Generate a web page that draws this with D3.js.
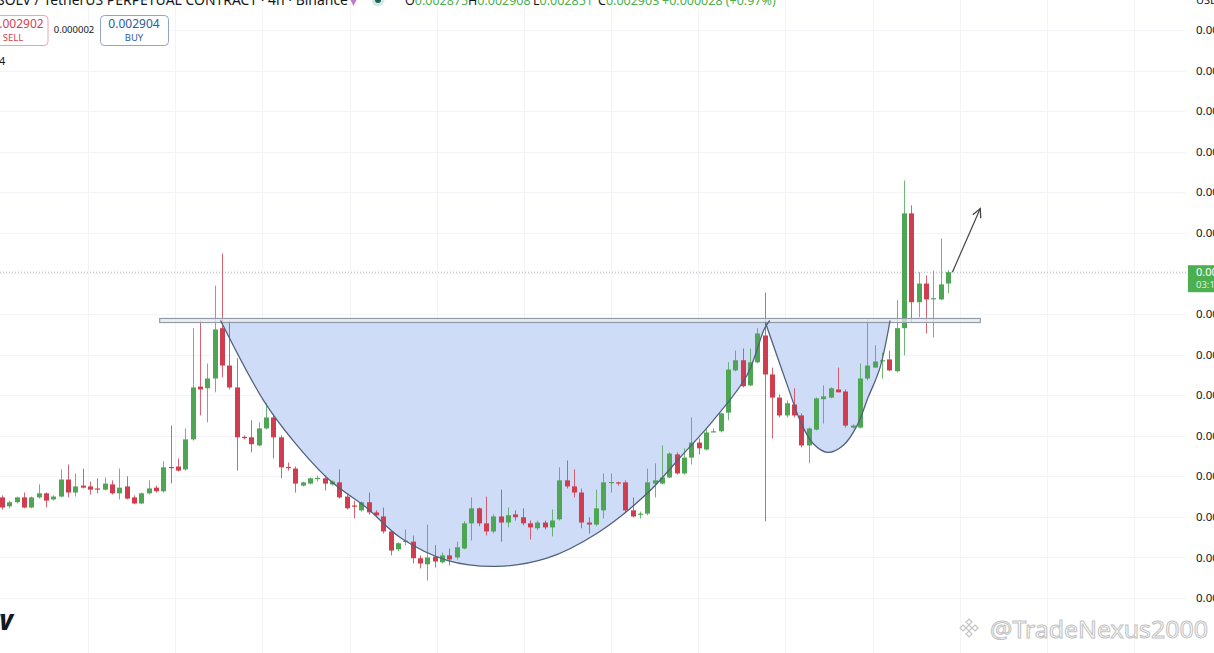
<!DOCTYPE html>
<html>
<head>
<meta charset="utf-8">
<title>SOLV cup and handle</title>
<script src="https://cdn.jsdelivr.net/npm/d3@7"></script>
<style>
body { margin: 0; background: #fff; overflow: hidden; }
text { font-family: "Noto Sans", sans-serif; }
</style>
</head>
<body>
<svg id="chart" width="1214" height="653"></svg>
<script>
// 4h candles, prices in millionths of USDT (2903 = 0.002903)
var open  = [2348,2326,2336,2348,2323,2348,2358,2343,2350,2392,2360,2377,2375,2370,2367,2380,2358,2375,2348,2333,
             2358,2372,2363,2423,2424,2417,2491,2621,2617,2641,2765,2673,2619,2497,2496,2476,2518,2545,2496,2423,
             2419,2377,2382,2395,2395,2380,2385,2350,2328,2316,2336,2311,2301,2264,2220,2238,2239,2198,2183,2202,
             2188,2205,2200,2222,2284,2321,2284,2264,2301,2286,2306,2299,2284,2272,2286,2274,2294,2390,2375,2360,
             2286,2281,2316,2384,2385,2385,2316,2306,2308,2382,2382,2397,2454,2407,2446,2483,2466,2510,2511,2557,
             2661,2686,2624,2681,2747,2651,2594,2550,2577,2550,2476,2515,2590,2594,2614,2609,2520,2520,2641,2668,
             2684,2688,2659,2765,3048,2829,2875,2838,2836,2875];
var high  = [2353,2340,2350,2360,2350,2380,2360,2353,2417,2429,2407,2419,2387,2395,2397,2390,2419,2400,2353,2360,
             2390,2377,2437,2525,2444,2518,2765,2784,2678,2870,2949,2784,2691,2501,2538,2533,2580,2550,2501,2434,
             2424,2387,2397,2402,2402,2390,2417,2358,2340,2338,2360,2316,2323,2267,2237,2269,2254,2205,2281,2230,
             2212,2222,2239,2289,2348,2323,2350,2306,2367,2323,2316,2321,2291,2291,2291,2318,2422,2439,2417,2370,
             2299,2367,2407,2407,2387,2390,2348,2313,2419,2432,2476,2459,2459,2469,2545,2493,2520,2518,2557,2681,
             2710,2715,2715,2765,2853,2668,2602,2587,2617,2555,2520,2594,2624,2619,2668,2614,2528,2678,2787,2723,
             2705,2710,2834,3129,3068,2903,2895,2907,2986,2908];
var low   = [2318,2321,2333,2321,2321,2345,2323,2340,2348,2348,2350,2370,2355,2358,2365,2355,2343,2343,2331,2331,
             2355,2360,2360,2382,2412,2414,2488,2550,2533,2607,2644,2614,2414,2491,2459,2474,2515,2444,2395,2414,
             2360,2375,2380,2387,2365,2377,2345,2318,2296,2313,2306,2299,2259,2205,2215,2230,2185,2173,2143,2175,
             2185,2180,2195,2220,2242,2277,2254,2259,2239,2274,2291,2279,2244,2267,2269,2252,2291,2370,2348,2272,
             2259,2277,2296,2360,2377,2311,2299,2296,2304,2348,2380,2395,2404,2404,2429,2454,2464,2508,2508,2538,
             2659,2619,2622,2678,2289,2493,2545,2545,2545,2471,2432,2513,2530,2592,2607,2520,2518,2518,2636,2668,
             2641,2659,2656,2698,2779,2792,2752,2742,2834,2851];
var close = [2323,2336,2348,2323,2348,2358,2340,2350,2392,2360,2375,2372,2367,2369,2382,2358,2372,2345,2333,2358,
             2370,2363,2422,2421,2414,2491,2619,2614,2641,2762,2673,2619,2496,2495,2479,2518,2545,2496,2422,2421,
             2382,2385,2395,2396,2382,2387,2348,2321,2327,2336,2311,2304,2264,2217,2235,2241,2198,2185,2200,2190,
             2205,2195,2225,2284,2321,2284,2264,2301,2286,2304,2299,2284,2274,2286,2274,2291,2390,2375,2360,2286,
             2281,2321,2385,2386,2382,2316,2301,2308,2385,2390,2397,2456,2407,2446,2483,2469,2508,2511,2555,2663,
             2686,2622,2681,2752,2651,2594,2550,2580,2550,2476,2518,2592,2597,2617,2607,2525,2525,2641,2673,2683,
             2686,2661,2765,3048,2829,2875,2836,2839,2873,2903];

var priceTicks = [3500,3400,3300,3200,3100,3000,2900,2800,2700,2600,2500,2400,2300,2200,2100];
var lastPrice = 2903;
var lastHigh = 2908, lastLow = 2851;
var countdown = "03:14:27";

// vertical grid (candle index of each time division)
var gridIdx = [11.7,23.6,35.5,47.5,59.3,71.2,83,94.9,106.8,118.8,130.6,142.5,154.4];

// cup and handle drawing (candle index, price)
var rimTop = 2789, rimBottom = 2779, rimPrice = 2784;
var rimIdx = [21.5, 133.4];
var cupIdx   = [29.8,35.7,39.7,44.7,49.8,54.3,60.7,67.5,74.3,81.1,88,92.5,97,101.6,104,104.7];
var cupPrice = [2784,2586,2488,2390,2321,2249,2193,2178,2198,2259,2358,2447,2538,2649,2765,2784];
var handleIdx   = [104.1,107,109,110.6,112.6,114.7,116.6,118.1,119.7,121.1];
var handlePrice = [2779,2629,2530,2481,2459,2476,2525,2594,2666,2784];
var arrowIdx = [129.6, 133.4], arrowPrice = [2903, 3060];

var GREEN = "#4ea553", RED = "#cf3d4e";

var svg = d3.select("#chart");
var x = d3.scaleLinear().domain([0, 129]).range([2, 948]);
var y = d3.scaleLinear().domain([2100, 3500]).range([598, 30]);
var plotRight = 1186;

// grid
var grid = svg.append("g").attr("stroke", "#f3f4f7").attr("stroke-width", 1);
grid.selectAll("line.h").data(priceTicks).enter().append("line")
  .attr("x1", 0).attr("x2", plotRight)
  .attr("y1", function(d) { return Math.round(y(d)) + 0.5; })
  .attr("y2", function(d) { return Math.round(y(d)) + 0.5; });
grid.selectAll("line.v").data(gridIdx).enter().append("line")
  .attr("y1", 0).attr("y2", 653)
  .attr("x1", function(d) { return Math.round(x(d)) + 0.5; })
  .attr("x2", function(d) { return Math.round(x(d)) + 0.5; });

// cup fill
var cupPts = cupIdx.map(function(d, i) { return [d, cupPrice[i]]; });
var handlePts = handleIdx.map(function(d, i) { return [d, handlePrice[i]]; });
var area = d3.area()
  .x(function(d) { return x(d[0]); })
  .y0(y(rimPrice))
  .y1(function(d) { return y(d[1]); })
  .curve(d3.curveCatmullRom);
var curve = d3.line()
  .x(function(d) { return x(d[0]); })
  .y(function(d) { return y(d[1]); })
  .curve(d3.curveCatmullRom);

svg.append("path").datum(cupPts).attr("d", area).attr("fill", "#cfdcf8");
svg.append("path").datum(handlePts).attr("d", area).attr("fill", "#cfdcf8");

// last price dotted line
svg.append("line")
  .attr("x1", 0).attr("x2", 1188)
  .attr("y1", y(lastPrice)).attr("y2", y(lastPrice))
  .attr("stroke", "#aab0ba").attr("stroke-width", 1).attr("stroke-dasharray", "1,2");

// candles
var candles = d3.range(open.length).map(function(i) {
  return { i: i, o: open[i], h: high[i], l: low[i], c: close[i] };
});
var cg = svg.append("g");
cg.selectAll("line").data(candles).enter().append("line")
  .attr("x1", function(d) { return Math.round(x(d.i)) + 0.5; })
  .attr("x2", function(d) { return Math.round(x(d.i)) + 0.5; })
  .attr("y1", function(d) { return y(d.h); })
  .attr("y2", function(d) { return y(d.l); })
  .attr("stroke", function(d) { return d.c >= d.o ? GREEN : RED; })
  .attr("stroke-width", 1)
  .attr("stroke-opacity", 0.8);
cg.selectAll("rect").data(candles).enter().append("rect")
  .attr("x", function(d) { return Math.round(x(d.i)) - 2; })
  .attr("width", 5)
  .attr("y", function(d) { return y(Math.max(d.o, d.c)); })
  .attr("height", function(d) { return Math.max(1.2, Math.abs(y(d.o) - y(d.c))); })
  .attr("fill", function(d) { return d.c >= d.o ? GREEN : RED; });

// rim rectangle
svg.append("rect")
  .attr("x", x(rimIdx[0])).attr("width", x(rimIdx[1]) - x(rimIdx[0]))
  .attr("y", y(rimTop)).attr("height", y(rimBottom) - y(rimTop))
  .attr("fill", "#e6eaee").attr("fill-opacity", 0.75)
  .attr("stroke", "#939daa").attr("stroke-width", 1.2);

// cup outline
svg.append("path").datum(cupPts).attr("d", curve)
  .attr("fill", "none").attr("stroke", "#51617c").attr("stroke-width", 1.3);
svg.append("path").datum(handlePts).attr("d", curve)
  .attr("fill", "none").attr("stroke", "#51617c").attr("stroke-width", 1.3);

// arrow
svg.append("defs").append("marker")
  .attr("id", "head").attr("viewBox", "0 0 10 10")
  .attr("refX", 9).attr("refY", 5)
  .attr("markerWidth", 9).attr("markerHeight", 9)
  .attr("orient", "auto")
  .append("path").attr("d", "M1,1 L9,5 L1,9")
  .attr("fill", "none").attr("stroke", "#444").attr("stroke-width", 1.2);
svg.append("line")
  .attr("x1", x(arrowIdx[0])).attr("y1", y(arrowPrice[0]))
  .attr("x2", x(arrowIdx[1])).attr("y2", y(arrowPrice[1]))
  .attr("stroke", "#444").attr("stroke-width", 1.2)
  .attr("marker-end", "url(#head)");

// price axis (labels are cut by the right edge as in the screenshot)
var axis = d3.axisRight(y).tickValues(priceTicks).tickSize(0).tickPadding(0)
  .tickFormat(function(d) { return (d / 1e6).toFixed(6); });
var ag = svg.append("g").attr("transform", "translate(1196,0)").call(axis);
ag.select(".domain").remove();
ag.selectAll("text").attr("fill", "#131722").style("font-size", "11.5px").style("font-family", "'Noto Sans', sans-serif");
svg.append("text").attr("x", 1196).attr("y", 4).attr("fill", "#131722").style("font-size", "11px").text("USDT");

// last price tag
svg.append("rect").attr("x", 1188).attr("y", y(lastPrice) - 7).attr("width", 30).attr("height", 27)
  .attr("fill", "#4caf50");
svg.append("text").attr("x", 1196).attr("y", y(lastPrice) + 4).attr("fill", "#fff")
  .style("font-size", "11px").text((lastPrice / 1e6).toFixed(6));
svg.append("text").attr("x", 1196).attr("y", y(lastPrice) + 16).attr("fill", "#dff2df")
  .style("font-size", "9.5px").text(countdown);

// header
svg.append("text").attr("x", -3).attr("y", 5).attr("fill", "#131722")
  .style("font-size", "14px").attr("textLength", 351).attr("lengthAdjust", "spacingAndGlyphs")
  .text("SOLV / TetherUS PERPETUAL CONTRACT · 4h · Binance");
svg.append("path").attr("d", "M348,-5 L359,-5 L353.5,6 Z").attr("fill", "#c07acb");
svg.append("circle").attr("cx", 378).attr("cy", 0).attr("r", 6.5).attr("fill", "#d3ebe8");
svg.append("circle").attr("cx", 378).attr("cy", 0).attr("r", 3).attr("fill", "#1e5f55");

var ohlcLabel = ["O", "H", "L", "C"];
var ohlcValue = [open[open.length - 1], lastHigh, lastLow, close[close.length - 1]];
var ohlcX = [405, 468, 533, 598];
ohlcLabel.forEach(function(l, i) {
  var t = svg.append("text").attr("x", ohlcX[i]).attr("y", 5).style("font-size", "12.5px");
  t.append("tspan").attr("fill", "#131722").text(l);
  t.append("tspan").attr("fill", "#4caf50").text((ohlcValue[i] / 1e6).toFixed(6));
});
svg.append("text").attr("x", 662).attr("y", 5).attr("fill", "#4caf50").style("font-size", "12.5px")
  .text("+0.000028 (+0.97%)");

// sell / buy
svg.append("rect").attr("x", -12).attr("y", 15.5).attr("width", 60).attr("height", 30).attr("rx", 4)
  .attr("fill", "#fff").attr("stroke", "#e7a7ad");
svg.append("text").attr("x", 18).attr("y", 28).attr("text-anchor", "middle").attr("fill", "#d8404f")
  .style("font-size", "12px").text("0.002902");
svg.append("text").attr("x", 13).attr("y", 41).attr("text-anchor", "middle").attr("fill", "#d8404f")
  .style("font-size", "9.5px").text("SELL");
svg.append("text").attr("x", 74).attr("y", 33).attr("text-anchor", "middle").attr("fill", "#131722")
  .style("font-size", "9.5px").text("0.000002");
svg.append("rect").attr("x", 100.5).attr("y", 15.5).attr("width", 68).attr("height", 30).attr("rx", 4)
  .attr("fill", "#fff").attr("stroke", "#8ea6c4");
svg.append("text").attr("x", 134).attr("y", 28).attr("text-anchor", "middle").attr("fill", "#2d5c9e")
  .style("font-size", "12px").text("0.002904");
svg.append("text").attr("x", 134).attr("y", 41).attr("text-anchor", "middle").attr("fill", "#2d5c9e")
  .style("font-size", "9.5px").text("BUY");
svg.append("text").attr("x", -1).attr("y", 65).attr("fill", "#131722").style("font-size", "11px").text("4");

// TradingView logo (cut at the left edge)
svg.append("text").attr("x", -13).attr("y", 630).attr("fill", "#131722")
  .style("font-size", "22px").style("font-weight", "900").style("font-style", "italic").text("TV");

// watermark
var wm = svg.append("g").attr("transform", "translate(969,628)").attr("fill", "#fff").attr("stroke", "#c4c4c4").attr("stroke-width", 1.2);
[[0,-6],[-6,0],[6,0],[0,6],[0,0]].forEach(function(p) {
  wm.append("path").attr("d", "M" + p[0] + "," + (p[1] - 3) + " l3,3 l-3,3 l-3,-3 Z");
});
svg.append("text").attr("x", 990).attr("y", 638).attr("fill", "#fff").attr("stroke", "#c4c4c4")
  .attr("stroke-width", 1).style("font-size", "23px").attr("textLength", 218)
  .attr("lengthAdjust", "spacingAndGlyphs").text("@TradeNexus2000");
</script>
</body>
</html>
